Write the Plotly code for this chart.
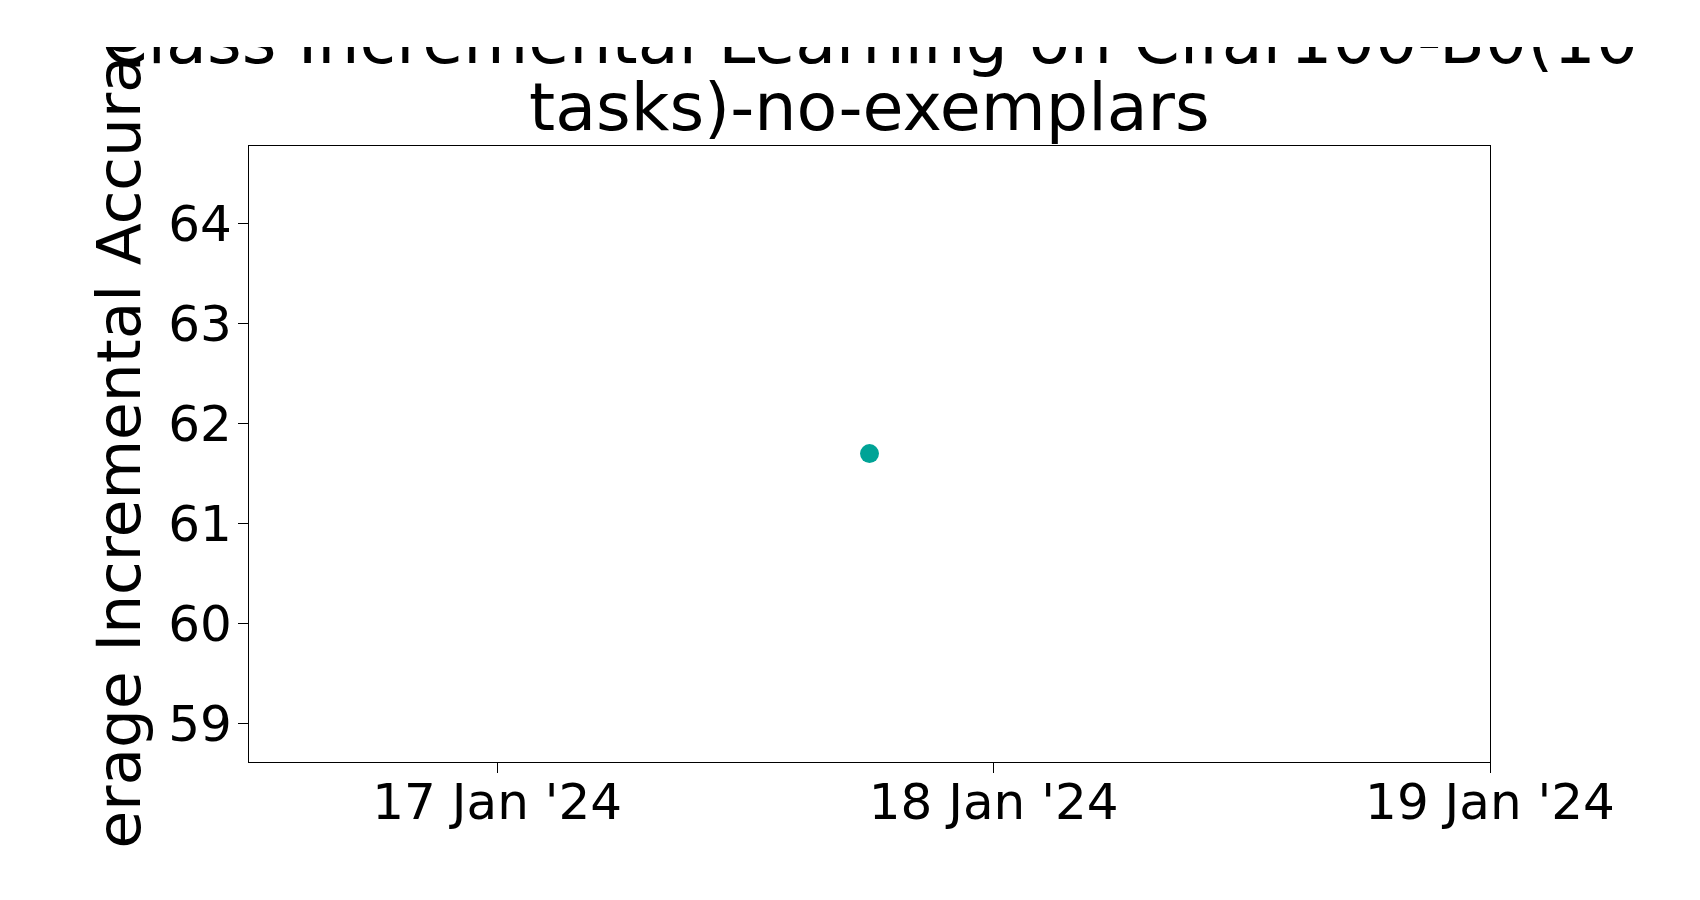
import plotly.graph_objects as go

# ---- data ----
run_dates = ["2024-01-17 18:00:00"]
avg_inc_acc = [61.70]
x_tick_dates = ["2024-01-17", "2024-01-18", "2024-01-19"]
y_tick_vals = [59, 60, 61, 62, 63, 64]
title_line1 = "Class Incremental Learning on Cifar100-B0(10"
title_line2 = "tasks)-no-exemplars"
y_label = "Average Incremental Accuracy"

# ---- layout geometry (pixels, figure coords; page has an 8px body margin) ----
W, H = 1684, 884
L, R, T, B = 241, 1482, 138, 754
PW, PH = R - L, B - T

def px(xp):
    return (xp - L) / PW

def py(yp):
    return (B - yp) / PH

FONT = "DejaVu Sans"
TEAL = "#00A396"

fig = go.Figure()
fig.add_trace(go.Scatter(
    x=run_dates, y=avg_inc_acc, mode="markers",
    marker=dict(size=19, color=TEAL, line=dict(width=0)),
    showlegend=False, cliponaxis=False,
))

axis_common = dict(
    showline=True, linecolor="black", linewidth=1.2, mirror=True,
    ticks="outside", ticklen=10, tickwidth=1.3, tickcolor="black",
    showgrid=False, zeroline=False,
    tickfont=dict(family=FONT, size=50, color="black"),
)

fig.update_xaxes(
    type="date", range=["2024-01-16 12:00:00", "2024-01-19 00:00:00"],
    tickmode="array", tickvals=x_tick_dates, tickformat="%d %b '%y",
    ticklabelstandoff=-14,
    **axis_common,
)
fig.update_yaxes(
    range=[58.617, 64.775], tickmode="array", tickvals=y_tick_vals,
    ticklabelstandoff=-4,
    **axis_common,
)

annotations = [
    dict(text=title_line1, x=px(861.5), y=py(32.2), xref="paper", yref="paper",
         xanchor="center", yanchor="middle", showarrow=False,
         font=dict(family=FONT, size=66.7, color="black")),
    dict(text=title_line2, x=px(861.5), y=py(98.9), xref="paper", yref="paper",
         xanchor="center", yanchor="middle", showarrow=False,
         font=dict(family=FONT, size=66.7, color="black")),
    dict(text=y_label, x=px(110), y=py(446), xref="paper", yref="paper",
         xanchor="center", yanchor="middle", showarrow=False, textangle=-90,
         font=dict(family=FONT, size=61.3, color="black")),
    # white masks reproducing the clipped figure edges of the original
    dict(text=" ", x=px(-20), y=py(-20), xref="paper", yref="paper",
         xanchor="left", yanchor="top", showarrow=False,
         width=W + 40, height=59, bgcolor="white", borderwidth=0, borderpad=0,
         font=dict(size=10)),
    dict(text=" ", x=px(-20), y=py(840), xref="paper", yref="paper",
         xanchor="left", yanchor="top", showarrow=False,
         width=W + 40, height=80, bgcolor="white", borderwidth=0, borderpad=0,
         font=dict(size=10)),
]

fig.update_layout(
    width=W, height=H,
    margin=dict(l=L, r=W - R, t=T, b=H - B, pad=0),
    paper_bgcolor="white", plot_bgcolor="white",
    annotations=annotations,
    showlegend=False,
)

fig.write_html("out.html")
